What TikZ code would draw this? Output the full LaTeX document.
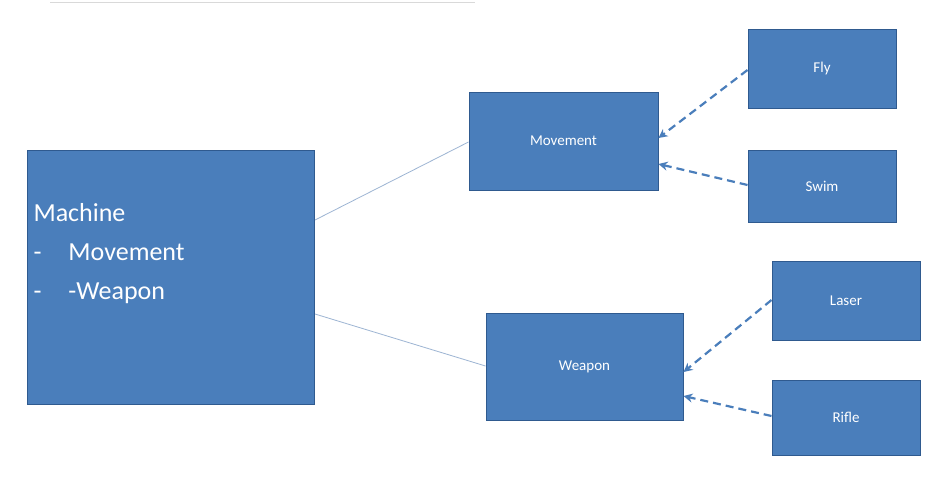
\documentclass[tikz,border=0pt]{standalone}
\usepackage{fontspec}
\setmainfont{Carlito}
\usetikzlibrary{arrows.meta}
\definecolor{boxf}{HTML}{4A7EBB}
\definecolor{boxd}{HTML}{2F5A8F}
\definecolor{lnk}{HTML}{9DB5D3}
\begin{document}
\begin{tikzpicture}[x=1pt,y=-1pt,
  box/.style={draw=boxd,line width=1pt,fill=boxf,text=white,font=\fontsize{15}{18}\selectfont},
  dasharrow/.style={draw=boxf,line width=2.2pt,dash pattern=on 8pt off 5pt,-{Stealth[length=9pt,width=9pt]}},
  link/.style={draw=lnk,line width=0.8pt}]
\fill[white] (0,0) rectangle (949,480);
\draw[black!15,line width=0.8pt] (50,2) -- (475,2);
\node[box,minimum width=287pt,minimum height=254pt,anchor=north west,inner sep=0] (m) at (27,150) {};
\node[text=white,anchor=north west,font=\fontsize{26}{39}\selectfont,align=left] (mt) at (30,200)
 {Machine\\-\hspace{27pt}Movement\\-\hspace{27pt}-Weapon};
\node[box,minimum width=189pt,minimum height=98pt] (mv) at (563.5,141) {Movement};
\node[box,minimum width=197pt,minimum height=107pt] (wp) at (584.5,366.5) {Weapon};
\node[box,minimum width=148pt,minimum height=79pt] (fly) at (822,68.5) {Fly};
\node[box,minimum width=148pt,minimum height=72pt] (sw) at (822,186) {Swim};
\node[box,minimum width=148pt,minimum height=79pt] (la) at (846,300.5) {Laser};
\node[box,minimum width=148pt,minimum height=75pt] (ri) at (846,417.5) {Rifle};
\draw[link] (m.east |- 0,220) -- (mv.west |- 0,142);
\draw[link] (m.east |- 0,314) -- (wp.west |- 0,366);
\draw[dasharrow] (fly.west |- 0,70) -- (mv.east |- 0,138);
\draw[dasharrow] (sw.west |- 0,185) -- (mv.east |- 0,164);
\draw[dasharrow] (la.west |- 0,300) -- (wp.east |- 0,372);
\draw[dasharrow] (ri.west |- 0,416) -- (wp.east |- 0,396);
\end{tikzpicture}
\end{document}
